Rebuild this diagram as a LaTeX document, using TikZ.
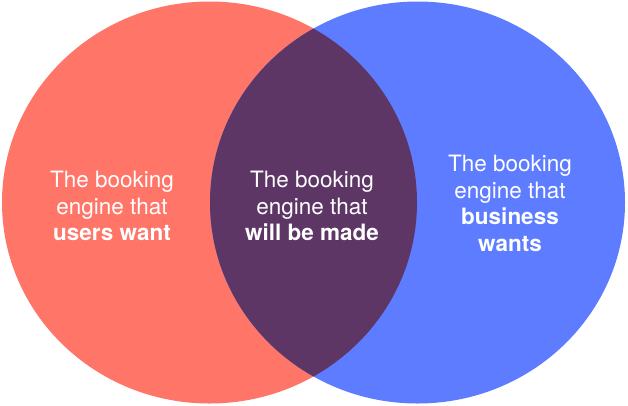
\documentclass[tikz,border=0pt]{standalone}
\usepackage{fontspec}
\setmainfont{TeX Gyre Heros}
\definecolor{lred}{HTML}{FF7568}
\definecolor{rblue}{HTML}{5E7CFF}
\definecolor{mid}{HTML}{5D3666}
\begin{document}
\begin{tikzpicture}[x=1pt,y=-1pt,
  lbl/.style={text=white,align=center,font=\fontsize{22.5}{26.5}\selectfont}]
\useasboundingbox (0,0) rectangle (628,405);
\fill[lred] (209.5,202.5) ellipse [x radius=207.5, y radius=201];
\fill[rblue] (417.5,202.5) ellipse [x radius=207.5, y radius=201];
\begin{scope}
\clip (209.5,202.5) ellipse [x radius=207.5, y radius=201];
\fill[mid] (417.5,202.5) ellipse [x radius=207.5, y radius=201];
\end{scope}
\node[lbl] (a) at (112,206) {The booking\\engine that\\\textbf{users want}};
\node[lbl] (b) at (312,206) {The booking\\engine that\\\textbf{will be made}};
\node[lbl] (c) at (510,203.5) {The booking\\engine that\\\textbf{business}\\\textbf{wants}};
\end{tikzpicture}
\end{document}
